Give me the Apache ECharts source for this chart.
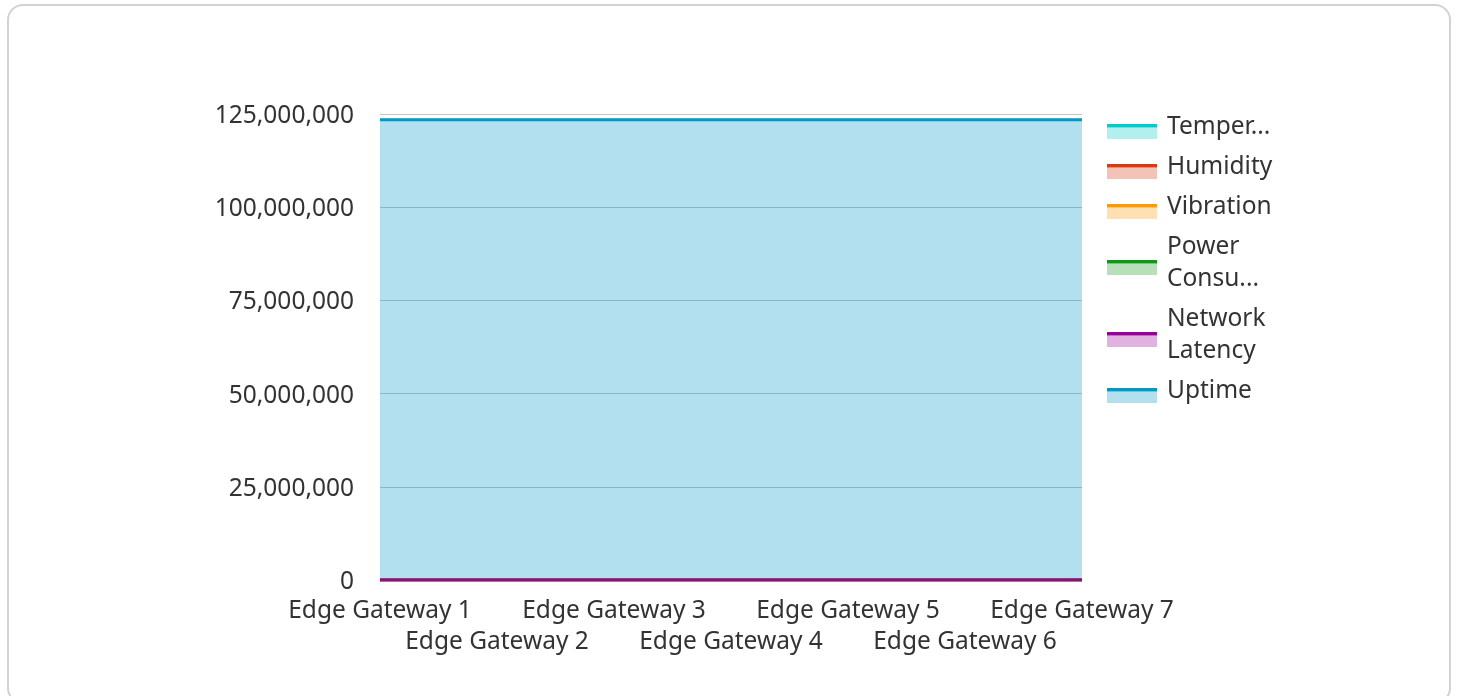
<!DOCTYPE html>
<html>
<head>
<meta charset="utf-8">
<script src="https://cdn.jsdelivr.net/npm/echarts@6/dist/echarts.min.js"></script>
<style>
    html, body { margin: 0; padding: 0; background: #fff; }
    #card {
        position: absolute; left: 7px; top: 4px;
        width: 1440px; height: 696px;
        border: 2px solid #d2d2d2; border-radius: 16px;
    }
    #chart { position: absolute; left: 0; top: 0; width: 1458px; height: 696px; }
</style>
</head>
<body>
<div id="card"></div>
<div id="chart"></div>
<script>
// Edge gateway sensor metrics, stacked
const gateways = ['Edge Gateway 1', 'Edge Gateway 2', 'Edge Gateway 3', 'Edge Gateway 4',
                  'Edge Gateway 5', 'Edge Gateway 6', 'Edge Gateway 7'];

const temperature      = [42.5, 47.1, 39.8, 51.3, 44.6, 38.9, 49.2];
const humidity         = [35.2, 41.8, 38.4, 29.7, 44.1, 36.5, 40.3];
const vibration        = [0.82, 1.15, 0.64, 0.97, 1.32, 0.71, 0.88];
const powerConsumption = [125.4, 138.2, 117.9, 142.6, 131.1, 120.7, 135.8];
const networkLatency   = [12.4, 15.8, 9.6, 18.2, 11.3, 14.7, 10.9];
const uptime           = [123452100, 123448800, 123455300, 123450200, 123446900, 123453700, 123449500];

const yTicks = [0, 25000000, 50000000, 75000000, 100000000, 125000000];

const seriesDefs = [
    { name: 'Temperature',       color: '#00CCCC', data: temperature },
    { name: 'Humidity',          color: '#DC3912', data: humidity },
    { name: 'Vibration',         color: '#FF9900', data: vibration },
    { name: 'Power Consumption', color: '#109618', data: powerConsumption },
    { name: 'Network Latency',   color: '#990099', data: networkLatency },
    { name: 'Uptime',            color: '#0099C6', data: uptime },
];

const FONT = '"Noto Sans", "Open Sans", sans-serif';
const FS = 24.5;

// legend swatch: solid line on top, faded area below
function legendIcon(color) {
    const svg = "<svg xmlns='http://www.w3.org/2000/svg' width='50' height='24' viewBox='0 0 50 24'>"
        + "<rect x='0' y='12.5' width='50' height='11.5' fill='" + color + "' fill-opacity='0.3'/>"
        + "<rect x='0' y='9' width='50' height='3.5' fill='" + color + "'/>"
        + "</svg>";
    return 'image://data:image/svg+xml;charset=utf-8,' + encodeURIComponent(svg);
}

const chart = echarts.init(document.getElementById('chart'), null, { renderer: 'canvas' });

chart.setOption({
    animation: false,
    textStyle: { fontFamily: FONT },
    grid: { left: 380, right: 376, top: 114, bottom: 116 },
    legend: {
        orient: 'vertical',
        left: 1107,
        top: 111,
        padding: 0,
        itemWidth: 50,
        itemHeight: 24,
        itemGap: 8,
        data: seriesDefs.map(s => ({ name: s.name, icon: legendIcon(s.color) })),
        formatter: name => name.split(' ').join('\n'),
        textStyle: {
            fontFamily: FONT,
            fontSize: FS,
            color: '#333',
            lineHeight: 32,
            width: 112,
            overflow: 'truncate',
            padding: [0, 0, 0, 5],
        },
    },
    xAxis: {
        type: 'category',
        data: gateways,
        boundaryGap: false,
        axisLine: { show: true, lineStyle: { color: '#ccc' } },
        axisTick: { show: false },
        axisLabel: {
            interval: 0,
            fontFamily: FONT,
            fontSize: FS,
            color: '#333',
            lineHeight: 31,
            margin: 16,
            formatter: (v, i) => (i % 2 ? '\n' + v : v),
        },
    },
    yAxis: {
        type: 'value',
        min: yTicks[0],
        max: yTicks[yTicks.length - 1],
        interval: yTicks[1] - yTicks[0],
        axisLine: { show: false },
        axisTick: { show: false },
        splitLine: { lineStyle: { color: '#c4c4c4', width: 1 } },
        axisLabel: {
            fontFamily: FONT,
            fontSize: FS,
            color: '#333',
            margin: 26,
            verticalAlign: 'top',
            lineHeight: 4,
            formatter: v => v.toLocaleString('en-US'),
        },
    },
    series: seriesDefs.map(s => ({
        type: 'line',
        name: s.name,
        data: s.data,
        stack: 'total',
        symbol: 'none',
        color: s.color,
        lineStyle: { color: s.color, width: 3 },
        areaStyle: { color: s.color, opacity: 0.3 },
    })),
});
</script>
</body>
</html>
